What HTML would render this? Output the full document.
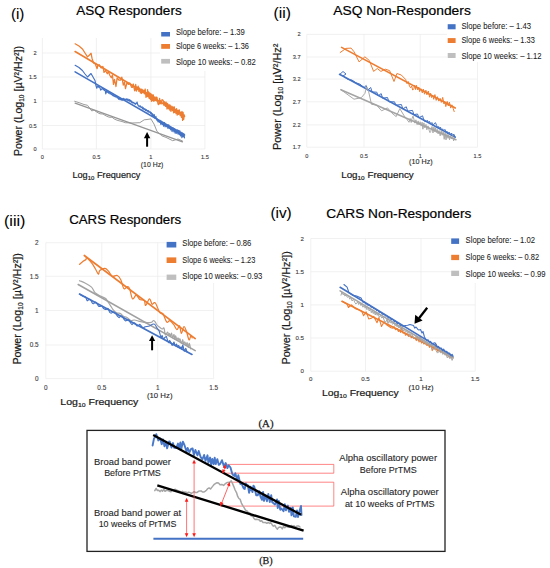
<!DOCTYPE html><html><head><meta charset="utf-8"><style>html,body{margin:0;padding:0;background:#fff;width:550px;height:568px;overflow:hidden}svg{display:block}</style></head><body>
<svg width="550" height="568" viewBox="0 0 550 568">
<rect width="550" height="568" fill="#fff"/>
<line x1="42.4" y1="53.0" x2="160.0" y2="53.0" stroke="#ebebeb" stroke-width="0.70" />
<line x1="42.4" y1="77.0" x2="204.9" y2="77.0" stroke="#ebebeb" stroke-width="0.70" />
<line x1="42.4" y1="101.3" x2="204.9" y2="101.3" stroke="#ebebeb" stroke-width="0.70" />
<line x1="42.4" y1="125.5" x2="204.9" y2="125.5" stroke="#ebebeb" stroke-width="0.70" />
<line x1="42.4" y1="149.0" x2="204.9" y2="149.0" stroke="#ebebeb" stroke-width="0.70" />
<line x1="42.4" y1="38.0" x2="42.4" y2="149.0" stroke="#ebebeb" stroke-width="0.70" />
<line x1="96.4" y1="38.0" x2="96.4" y2="149.0" stroke="#ebebeb" stroke-width="0.70" />
<line x1="150.9" y1="38.0" x2="150.9" y2="149.0" stroke="#ebebeb" stroke-width="0.70" />
<line x1="204.9" y1="71.0" x2="204.9" y2="149.0" stroke="#ebebeb" stroke-width="0.70" />
<text x="36.7" y="55.0" font-family='"Liberation Sans", sans-serif' font-size="5.60" fill="#404040" text-anchor="end" font-weight="normal"  stroke="#404040" stroke-width="0.12">2</text>
<text x="36.7" y="79.0" font-family='"Liberation Sans", sans-serif' font-size="5.60" fill="#404040" text-anchor="end" font-weight="normal"  stroke="#404040" stroke-width="0.12">1.5</text>
<text x="36.7" y="103.3" font-family='"Liberation Sans", sans-serif' font-size="5.60" fill="#404040" text-anchor="end" font-weight="normal"  stroke="#404040" stroke-width="0.12">1</text>
<text x="36.7" y="127.5" font-family='"Liberation Sans", sans-serif' font-size="5.60" fill="#404040" text-anchor="end" font-weight="normal"  stroke="#404040" stroke-width="0.12">0.5</text>
<text x="36.7" y="151.0" font-family='"Liberation Sans", sans-serif' font-size="5.60" fill="#404040" text-anchor="end" font-weight="normal"  stroke="#404040" stroke-width="0.12">0</text>
<text x="42.4" y="159.3" font-family='"Liberation Sans", sans-serif' font-size="5.60" fill="#404040" text-anchor="middle" font-weight="normal"  stroke="#404040" stroke-width="0.12">0</text>
<text x="96.4" y="159.3" font-family='"Liberation Sans", sans-serif' font-size="5.60" fill="#404040" text-anchor="middle" font-weight="normal"  stroke="#404040" stroke-width="0.12">0.5</text>
<text x="150.9" y="159.3" font-family='"Liberation Sans", sans-serif' font-size="5.60" fill="#404040" text-anchor="middle" font-weight="normal"  stroke="#404040" stroke-width="0.12">1</text>
<text x="204.9" y="159.3" font-family='"Liberation Sans", sans-serif' font-size="5.60" fill="#404040" text-anchor="middle" font-weight="normal"  stroke="#404040" stroke-width="0.12">1.5</text>
<text x="152.1" y="167.3" font-family='"Liberation Sans", sans-serif' font-size="6.60" fill="#262626" text-anchor="middle" font-weight="normal" textLength="22.6" lengthAdjust="spacingAndGlyphs"  stroke="#262626" stroke-width="0.10">(10 Hz)</text>
<text x="72.4" y="177.7" font-family='"Liberation Sans", sans-serif' font-size="9.2" fill="#1a1a1a" stroke="#1a1a1a" stroke-width="0.2" textLength="68.0" lengthAdjust="spacingAndGlyphs">Log<tspan font-size="6" dy="2">10</tspan><tspan dy="-2"> Frequency</tspan></text>
<text transform="translate(21.8 156.0) rotate(-90)" x="0" y="0" font-family='"Liberation Sans", sans-serif' font-size="10.60" fill="#1a1a1a" stroke="#1a1a1a" stroke-width="0.2" textLength="110.0" lengthAdjust="spacingAndGlyphs">Power (Log<tspan font-size="6.57" dy="2.2">10</tspan><tspan dy="-2.2"> [µV²/Hz²])</tspan></text>
<text x="10.9" y="18.5" font-family='"Liberation Sans", sans-serif' font-size="15.00" fill="#000" text-anchor="start" font-weight="normal" textLength="13.5" lengthAdjust="spacingAndGlyphs"  stroke="#000" stroke-width="0.08">(i)</text>
<text x="76.2" y="15.3" font-family='"Liberation Sans", sans-serif' font-size="13.30" fill="#000" text-anchor="start" font-weight="normal" textLength="105.5" lengthAdjust="spacingAndGlyphs"  stroke="#000" stroke-width="0.20">ASQ Responders</text>
<rect x="161.2" y="32.0" width="8.8" height="4.5" fill="#4472c4"/>
<text x="175.9" y="34.9" font-family='"Liberation Sans", sans-serif' font-size="8.20" fill="#1a1a1a" text-anchor="start" font-weight="normal" textLength="69.0" lengthAdjust="spacingAndGlyphs"  stroke="#1a1a1a" stroke-width="0.05">Slope before: – 1.39</text>
<rect x="161.2" y="44.0" width="8.8" height="4.8" fill="#ed7d31"/>
<text x="175.9" y="49.1" font-family='"Liberation Sans", sans-serif' font-size="8.20" fill="#1a1a1a" text-anchor="start" font-weight="normal" textLength="73.0" lengthAdjust="spacingAndGlyphs"  stroke="#1a1a1a" stroke-width="0.05">Slope 6 weeks: – 1.36</text>
<rect x="161.2" y="58.9" width="8.8" height="4.7" fill="#bfbfbf"/>
<text x="175.9" y="64.6" font-family='"Liberation Sans", sans-serif' font-size="8.20" fill="#1a1a1a" text-anchor="start" font-weight="normal" textLength="80.0" lengthAdjust="spacingAndGlyphs"  stroke="#1a1a1a" stroke-width="0.05">Slope 10 weeks: – 0.82</text>
<path d="M75.1 43.8 L79.0 46.0 L82.4 48.9 L85.0 53.0 L87.5 56.9 L89.5 55.0 L91.1 53.3 L92.0 58.2 L93.5 62.9 L95.3 64.0 L97.1 68.7 L97.8 65.5 L99.3 64.7 L101.1 68.0 L102.9 66.5 L104.0 72.4 L105.5 70.5 L107.3 73.8 L108.4 71.6 L109.8 75.3 L111.3 77.8 L112.4 74.9 L113.5 84.4 L114.5 79.3 L116.0 86.5 L117.1 77.8 L118.9 80.0 L120.7 80.0 L121.8 77.1 L123.3 85.1 L124.4 82.2 L125.5 88.7 L126.9 82.9 L128.4 84.4 L129.8 82.9 L131.6 87.3 L132.5 87.4 L133.3 84.0 L134.0 87.8 L134.7 90.8 L135.2 89.8 L135.7 84.4 L136.4 91.1 L137.0 87.0 L137.6 89.7 L138.2 86.1 L138.9 91.4 L139.5 88.0 L140.4 93.0 L141.0 88.9 L141.5 93.5 L142.2 89.4 L143.0 92.8 L143.8 90.1 L144.4 93.8 L145.2 89.0 L146.0 97.4 L146.5 92.6 L147.0 96.4 L147.6 89.7 L148.1 96.8 L148.6 91.9 L149.2 98.4 L149.8 92.8 L150.3 99.3 L150.9 93.6 L151.4 101.3 L152.0 94.6 L152.6 100.6 L153.3 94.8 L153.8 101.3 L154.4 96.9 L155.2 100.5 L156.0 96.9 L156.5 101.0 L157.0 97.3 L157.8 103.0 L158.3 104.6 L159.0 104.3 L159.6 98.3 L160.0 103.6 L160.5 100.5 L161.2 104.0 L162.0 99.6 L162.7 100.0 L163.2 100.4 L164.0 105.4 L164.7 101.7 L165.5 106.4 L166.2 102.2 L167.0 109.0 L167.6 103.4 L168.4 108.9 L169.1 104.6 L169.8 110.2 L170.2 105.1 L171.0 111.3 L171.8 106.1 L172.6 110.7 L173.0 106.8 L173.6 112.8 L174.3 106.8 L174.7 112.5 L175.3 109.1 L176.0 113.6 L176.6 108.7 L177.2 115.2 L178.0 110.2 L178.6 114.4 L179.3 109.9 L180.2 115.7 L180.8 112.1 L181.4 117.3 L182.0 111.4 L182.6 120.4 L183.1 112.4 L183.7 119.4 L184.3 114.8" fill="none" stroke="#ed7d31" stroke-width="1.25" stroke-linejoin="round" stroke-linecap="round" />
<path d="M75.1 51.5 L184.5 116.3" fill="none" stroke="#ed7d31" stroke-width="1.60" stroke-linejoin="round" stroke-linecap="round" />
<path d="M75.1 65.3 L79.0 67.5 L82.4 70.5 L85.0 74.0 L87.5 77.0 L89.5 75.0 L91.0 73.5 L93.0 77.0 L95.0 80.5 L96.0 85.8 L96.8 88.2 L97.4 86.8 L98.1 85.7 L98.7 87.3 L99.5 86.8 L100.1 88.3 L100.7 90.1 L101.6 89.1 L102.5 87.9 L103.2 89.7 L103.9 89.3 L104.4 90.5 L105.1 89.8 L105.8 93.9 L106.7 90.3 L107.3 92.3 L108.1 91.7 L108.7 93.2 L109.4 92.5 L110.1 94.0 L110.8 93.1 L111.3 94.7 L112.1 94.1 L112.7 95.6 L113.4 94.7 L114.1 96.6 L115.0 95.6 L115.6 96.9 L116.5 96.6 L117.3 98.0 L117.8 97.4 L118.7 99.3 L119.2 98.0 L120.1 99.8 L120.8 98.4 L121.4 100.1 L121.9 98.6 L122.5 100.2 L123.3 98.4 L123.9 99.8 L124.7 98.9 L125.4 99.9 L126.3 98.8 L127.1 100.5 L127.8 98.9 L128.6 100.7 L129.3 99.5 L129.8 101.4 L130.6 100.2 L131.3 102.4 L131.8 101.2 L132.7 103.1 L133.5 102.3 L134.3 103.8 L134.9 103.0 L135.5 104.3 L136.3 103.5 L137.1 102.1 L137.8 104.8 L138.4 106.1 L139.3 105.8 L139.9 107.0 L140.5 105.9 L141.3 107.7 L142.1 106.8 L142.7 109.0 L143.3 107.7 L144.0 109.6 L144.9 108.6 L145.5 110.5 L146.2 109.5 L146.8 110.9 L147.4 110.4 L148.0 112.1 L148.6 110.6 L149.2 112.3 L150.1 111.6 L150.7 113.5 L151.4 112.7 L152.1 115.8 L152.6 113.7 L153.4 116.3 L154.2 114.6 L155.0 118.5 L155.9 116.4 L156.7 120.1 L157.2 118.8 L158.0 121.9 L158.6 119.8 L159.3 122.4 L160.0 120.4 L160.8 124.4 L161.6 121.2 L162.2 124.7 L163.0 122.3 L163.7 126.3 L164.6 122.5 L165.2 126.8 L166.1 124.3 L166.6 126.8 L167.1 124.6 L167.9 128.4 L168.8 124.7 L169.3 128.6 L170.0 126.3 L170.7 130.0 L171.2 127.2 L172.1 131.7 L173.0 127.7 L173.9 132.0 L174.4 128.7 L175.2 133.3 L175.8 129.2 L176.7 133.5 L177.5 129.8 L178.1 134.2 L178.6 130.4 L179.4 134.7 L179.9 130.7 L180.5 136.0 L181.2 132.2 L181.9 137.7 L182.6 132.8 L183.2 136.9 L183.9 133.7 L184.5 137.9" fill="none" stroke="#4472c4" stroke-width="1.15" stroke-linejoin="round" stroke-linecap="round" />
<path d="M75.1 71.9 L184.5 135.0" fill="none" stroke="#4472c4" stroke-width="1.60" stroke-linejoin="round" stroke-linecap="round" />
<path d="M74.7 101.3 L80.0 103.0 L84.0 104.5 L87.5 105.3 L91.8 111.0 L94.0 110.0 L96.0 111.5 L98.0 112.8 L100.0 113.8 L103.0 114.0 L105.0 115.3 L108.0 116.8 L110.0 117.3 L112.0 117.2 L114.0 118.8 L116.0 119.8 L118.0 120.5 L122.0 121.5 L125.3 122.7 L132.0 123.0 L139.8 122.7 L144.2 119.8 L147.0 119.5 L150.9 118.9 L154.0 124.0 L157.0 131.4 L161.8 135.8 L166.0 137.4 L172.7 140.7 L178.0 139.0 L182.5 141.0" fill="none" stroke="#9c9c9c" stroke-width="1.00" stroke-linejoin="round" stroke-linecap="round" />
<path d="M75.1 103.1 L182.5 141.8" fill="none" stroke="#959595" stroke-width="1.25" stroke-linejoin="round" stroke-linecap="round" />
<line x1="147.1" y1="137.0" x2="147.1" y2="146.7" stroke="#000" stroke-width="2.00" />
<polygon points="143.9,138.2 147.1,132 150.3,138.2" fill="#000"/>
<line x1="306.8" y1="34.4" x2="447.0" y2="34.4" stroke="#ebebeb" stroke-width="0.70" />
<line x1="306.8" y1="57.0" x2="447.0" y2="57.0" stroke="#ebebeb" stroke-width="0.70" />
<line x1="306.8" y1="79.1" x2="477.5" y2="79.1" stroke="#ebebeb" stroke-width="0.70" />
<line x1="306.8" y1="101.8" x2="477.5" y2="101.8" stroke="#ebebeb" stroke-width="0.70" />
<line x1="306.8" y1="124.9" x2="477.5" y2="124.9" stroke="#ebebeb" stroke-width="0.70" />
<line x1="306.8" y1="147.2" x2="477.5" y2="147.2" stroke="#ebebeb" stroke-width="0.70" />
<line x1="306.8" y1="34.4" x2="306.8" y2="147.2" stroke="#ebebeb" stroke-width="0.70" />
<line x1="364.0" y1="34.4" x2="364.0" y2="147.2" stroke="#ebebeb" stroke-width="0.70" />
<line x1="420.2" y1="34.4" x2="420.2" y2="147.2" stroke="#ebebeb" stroke-width="0.70" />
<line x1="477.5" y1="62.0" x2="477.5" y2="147.2" stroke="#ebebeb" stroke-width="0.70" />
<text x="300.5" y="36.4" font-family='"Liberation Sans", sans-serif' font-size="5.60" fill="#404040" text-anchor="end" font-weight="normal"  stroke="#404040" stroke-width="0.12">2</text>
<text x="300.5" y="59.0" font-family='"Liberation Sans", sans-serif' font-size="5.60" fill="#404040" text-anchor="end" font-weight="normal"  stroke="#404040" stroke-width="0.12">3.7</text>
<text x="300.5" y="81.1" font-family='"Liberation Sans", sans-serif' font-size="5.60" fill="#404040" text-anchor="end" font-weight="normal"  stroke="#404040" stroke-width="0.12">3.2</text>
<text x="300.5" y="103.8" font-family='"Liberation Sans", sans-serif' font-size="5.60" fill="#404040" text-anchor="end" font-weight="normal"  stroke="#404040" stroke-width="0.12">2.7</text>
<text x="300.5" y="126.9" font-family='"Liberation Sans", sans-serif' font-size="5.60" fill="#404040" text-anchor="end" font-weight="normal"  stroke="#404040" stroke-width="0.12">2.2</text>
<text x="300.5" y="149.2" font-family='"Liberation Sans", sans-serif' font-size="5.60" fill="#404040" text-anchor="end" font-weight="normal"  stroke="#404040" stroke-width="0.12">1.7</text>
<text x="306.8" y="157.6" font-family='"Liberation Sans", sans-serif' font-size="5.60" fill="#404040" text-anchor="middle" font-weight="normal"  stroke="#404040" stroke-width="0.12">0</text>
<text x="364.0" y="157.6" font-family='"Liberation Sans", sans-serif' font-size="5.60" fill="#404040" text-anchor="middle" font-weight="normal"  stroke="#404040" stroke-width="0.12">0.5</text>
<text x="420.2" y="157.6" font-family='"Liberation Sans", sans-serif' font-size="5.60" fill="#404040" text-anchor="middle" font-weight="normal"  stroke="#404040" stroke-width="0.12">1</text>
<text x="477.5" y="157.6" font-family='"Liberation Sans", sans-serif' font-size="5.60" fill="#404040" text-anchor="middle" font-weight="normal"  stroke="#404040" stroke-width="0.12">1.5</text>
<text x="420.9" y="163.6" font-family='"Liberation Sans", sans-serif' font-size="6.80" fill="#262626" text-anchor="middle" font-weight="normal" textLength="23.6" lengthAdjust="spacingAndGlyphs"  stroke="#262626" stroke-width="0.10">(10 Hz)</text>
<text x="341.2" y="177.5" font-family='"Liberation Sans", sans-serif' font-size="9.2" fill="#1a1a1a" stroke="#1a1a1a" stroke-width="0.2" textLength="72.5" lengthAdjust="spacingAndGlyphs">Log<tspan font-size="6" dy="2">10</tspan><tspan dy="-2"> Frequency</tspan></text>
<text transform="translate(280.9 150.1) rotate(-90)" x="0" y="0" font-family='"Liberation Sans", sans-serif' font-size="10.60" fill="#1a1a1a" stroke="#1a1a1a" stroke-width="0.2" textLength="106.5" lengthAdjust="spacingAndGlyphs">Power (Log<tspan font-size="6.57" dy="2.2">10</tspan><tspan dy="-2.2"> [µV²/Hz²</tspan></text>
<text x="273.6" y="18.3" font-family='"Liberation Sans", sans-serif' font-size="15.00" fill="#000" text-anchor="start" font-weight="normal" textLength="17.3" lengthAdjust="spacingAndGlyphs"  stroke="#000" stroke-width="0.08">(ii)</text>
<text x="333.3" y="14.8" font-family='"Liberation Sans", sans-serif' font-size="13.30" fill="#000" text-anchor="start" font-weight="normal" textLength="137.5" lengthAdjust="spacingAndGlyphs"  stroke="#000" stroke-width="0.20">ASQ Non-Responders</text>
<rect x="447.7" y="24.2" width="7.9" height="5.1" fill="#4472c4"/>
<text x="461.4" y="28.9" font-family='"Liberation Sans", sans-serif' font-size="8.20" fill="#1a1a1a" text-anchor="start" font-weight="normal" textLength="69.6" lengthAdjust="spacingAndGlyphs"  stroke="#1a1a1a" stroke-width="0.05">Slope before: – 1.43</text>
<rect x="447.7" y="38.1" width="7.9" height="4.9" fill="#ed7d31"/>
<text x="461.4" y="43.0" font-family='"Liberation Sans", sans-serif' font-size="8.20" fill="#1a1a1a" text-anchor="start" font-weight="normal" textLength="73.5" lengthAdjust="spacingAndGlyphs"  stroke="#1a1a1a" stroke-width="0.05">Slope 6 weeks: – 1.33</text>
<rect x="447.7" y="53.0" width="7.9" height="5.0" fill="#bfbfbf"/>
<text x="461.4" y="58.6" font-family='"Liberation Sans", sans-serif' font-size="8.20" fill="#1a1a1a" text-anchor="start" font-weight="normal" textLength="80.2" lengthAdjust="spacingAndGlyphs"  stroke="#1a1a1a" stroke-width="0.05">Slope 10 weeks: – 1.12</text>
<path d="M340.2 52.5 L346.0 48.4 L351.1 48.1 L354.0 51.7 L359.1 61.9 L364.9 56.8 L369.3 60.5 L373.6 71.4 L377.3 68.5 L380.9 71.4 L385.3 69.2 L389.6 70.6 L394.0 81.5 L396.9 73.5 L401.3 75.0 L405.6 79.4 L407.0 83.7 L408.2 81.5 L409.5 86.2 L410.6 87.8 L411.7 86.1 L412.7 90.1 L413.9 88.6 L414.7 85.2 L415.6 89.6 L416.4 85.3 L417.8 90.0 L418.8 87.1 L419.6 91.6 L420.9 88.7 L422.3 92.9 L423.4 89.2 L424.5 94.2 L425.9 90.2 L426.9 94.8 L428.3 91.0 L429.6 97.2 L430.6 93.3 L431.6 97.6 L432.7 95.1 L433.7 99.3 L434.9 94.6 L436.2 100.4 L437.4 96.7 L438.8 101.1 L440.2 98.4 L441.3 102.4 L442.7 97.4 L444.0 104.0 L444.8 101.3 L445.8 106.6 L447.2 101.4 L448.3 105.9 L449.4 102.1 L450.7 108.1 L451.9 104.8 L453.2 108.6 L454.2 111.6" fill="none" stroke="#ed7d31" stroke-width="1.00" stroke-linejoin="round" stroke-linecap="round" />
<path d="M341.6 47.4 L455.3 108.0" fill="none" stroke="#ed7d31" stroke-width="1.60" stroke-linejoin="round" stroke-linecap="round" />
<path d="M339.5 74.6 L343.0 71.5 L346.0 74.0 L343.0 76.0 L348.0 79.4 L352.0 80.1 L356.0 82.8 L360.0 84.2 L364.0 87.6 L366.2 85.5 L367.6 90.2 L370.7 87.5 L372.1 91.9 L376.8 92.2 L378.2 95.8 L381.2 93.6 L382.6 98.2 L387.5 97.5 L388.9 101.8 L394.5 101.8 L395.9 105.2 L401.4 104.5 L402.8 108.8 L406.3 106.8 L407.7 111.1 L412.5 110.4 L413.9 114.6 L417.5 114.0 L418.9 117.7 L422.6 115.8 L424.0 120.9 L426.0 121.6 L427.3 120.3 L428.5 122.5 L429.5 121.4 L430.6 123.8 L431.9 122.5 L433.1 125.9 L434.1 123.7 L435.5 122.7 L436.6 125.4 L437.7 127.5 L438.8 126.6 L439.6 128.7 L440.5 127.2 L441.5 130.1 L442.6 128.8 L443.6 130.7 L444.9 129.4 L446.0 132.2 L447.0 131.2 L447.8 133.8 L449.1 132.1 L450.5 134.8 L451.6 133.0 L452.7 136.0 L453.8 134.1 L455.3 137.5" fill="none" stroke="#4472c4" stroke-width="1.00" stroke-linejoin="round" stroke-linecap="round" />
<path d="M339.5 74.3 L455.3 137.2" fill="none" stroke="#4472c4" stroke-width="1.60" stroke-linejoin="round" stroke-linecap="round" />
<path d="M340.9 89.7 L354.0 99.2 L361.3 97.7 L364.9 93.4 L366.7 86.8 L368.5 91.2 L371.5 104.3 L376.5 105.0 L381.6 110.8 L387.5 107.9 L391.8 113.0 L396.2 116.6 L399.8 108.6 L404.2 115.9 L407.0 119.5 L409.0 122.3 L410.2 118.5 L411.2 122.5 L412.0 118.5 L413.0 116.1 L413.9 119.2 L414.8 123.1 L415.9 119.8 L417.2 124.7 L418.1 120.9 L419.0 124.9 L420.1 121.8 L421.2 126.1 L422.1 122.2 L422.9 129.2 L423.9 122.9 L424.8 127.9 L426.0 124.4 L426.8 129.8 L428.0 125.9 L429.2 130.4 L430.0 132.6 L430.7 131.5 L432.0 126.5 L433.0 132.9 L433.9 127.0 L434.8 131.8 L435.6 127.8 L436.4 132.5 L437.2 129.3 L438.1 133.9 L439.0 130.5 L440.2 135.8 L441.2 130.7 L442.2 135.3 L443.2 131.4 L444.2 139.3 L445.1 132.7 L446.0 139.9 L447.0 134.2 L448.0 138.3 L448.7 134.6 L449.5 139.8 L450.6 135.9 L451.5 139.0 L452.5 135.6 L453.6 140.9 L454.8 137.9" fill="none" stroke="#a8a8a8" stroke-width="1.00" stroke-linejoin="round" stroke-linecap="round" />
<path d="M340.9 89.7 L456.0 139.7" fill="none" stroke="#a4a4a4" stroke-width="1.50" stroke-linejoin="round" stroke-linecap="round" />
<line x1="45.8" y1="242.7" x2="166.0" y2="242.7" stroke="#ebebeb" stroke-width="0.70" />
<line x1="45.8" y1="276.3" x2="166.0" y2="276.3" stroke="#ebebeb" stroke-width="0.70" />
<line x1="45.8" y1="310.5" x2="213.6" y2="310.5" stroke="#ebebeb" stroke-width="0.70" />
<line x1="45.8" y1="345.0" x2="213.6" y2="345.0" stroke="#ebebeb" stroke-width="0.70" />
<line x1="45.8" y1="378.6" x2="213.6" y2="378.6" stroke="#ebebeb" stroke-width="0.70" />
<line x1="45.8" y1="242.7" x2="45.8" y2="378.6" stroke="#ebebeb" stroke-width="0.70" />
<line x1="101.8" y1="242.7" x2="101.8" y2="378.6" stroke="#ebebeb" stroke-width="0.70" />
<line x1="157.7" y1="242.7" x2="157.7" y2="378.6" stroke="#ebebeb" stroke-width="0.70" />
<line x1="213.6" y1="283.0" x2="213.6" y2="378.6" stroke="#ebebeb" stroke-width="0.70" />
<text x="38.6" y="245.0" font-family='"Liberation Sans", sans-serif' font-size="6.40" fill="#404040" text-anchor="end" font-weight="normal"  stroke="#404040" stroke-width="0.12">2</text>
<text x="38.6" y="278.6" font-family='"Liberation Sans", sans-serif' font-size="6.40" fill="#404040" text-anchor="end" font-weight="normal"  stroke="#404040" stroke-width="0.12">1.5</text>
<text x="38.6" y="312.8" font-family='"Liberation Sans", sans-serif' font-size="6.40" fill="#404040" text-anchor="end" font-weight="normal"  stroke="#404040" stroke-width="0.12">1</text>
<text x="38.6" y="347.3" font-family='"Liberation Sans", sans-serif' font-size="6.40" fill="#404040" text-anchor="end" font-weight="normal"  stroke="#404040" stroke-width="0.12">0.5</text>
<text x="38.6" y="380.9" font-family='"Liberation Sans", sans-serif' font-size="6.40" fill="#404040" text-anchor="end" font-weight="normal"  stroke="#404040" stroke-width="0.12">0</text>
<text x="45.8" y="390.0" font-family='"Liberation Sans", sans-serif' font-size="6.40" fill="#404040" text-anchor="middle" font-weight="normal"  stroke="#404040" stroke-width="0.12">0</text>
<text x="101.8" y="390.0" font-family='"Liberation Sans", sans-serif' font-size="6.40" fill="#404040" text-anchor="middle" font-weight="normal"  stroke="#404040" stroke-width="0.12">0.5</text>
<text x="157.7" y="390.0" font-family='"Liberation Sans", sans-serif' font-size="6.40" fill="#404040" text-anchor="middle" font-weight="normal"  stroke="#404040" stroke-width="0.12">1</text>
<text x="213.6" y="390.0" font-family='"Liberation Sans", sans-serif' font-size="6.40" fill="#404040" text-anchor="middle" font-weight="normal"  stroke="#404040" stroke-width="0.12">1.5</text>
<text x="159.7" y="398.0" font-family='"Liberation Sans", sans-serif' font-size="7.30" fill="#262626" text-anchor="middle" font-weight="normal" textLength="25.6" lengthAdjust="spacingAndGlyphs"  stroke="#262626" stroke-width="0.10">(10 Hz)</text>
<text x="60.3" y="404.5" font-family='"Liberation Sans", sans-serif' font-size="9.2" fill="#1a1a1a" stroke="#1a1a1a" stroke-width="0.2" textLength="78.0" lengthAdjust="spacingAndGlyphs">Log<tspan font-size="6" dy="2">10</tspan><tspan dy="-2"> Frequency</tspan></text>
<text transform="translate(21.0 364.6) rotate(-90)" x="0" y="0" font-family='"Liberation Sans", sans-serif' font-size="10.60" fill="#1a1a1a" stroke="#1a1a1a" stroke-width="0.2" textLength="111.5" lengthAdjust="spacingAndGlyphs">Power (Log<tspan font-size="6.57" dy="2.2">10</tspan><tspan dy="-2.2"> [µV²/Hz²])</tspan></text>
<text x="4.0" y="226.3" font-family='"Liberation Sans", sans-serif' font-size="15.00" fill="#000" text-anchor="start" font-weight="normal" textLength="21.5" lengthAdjust="spacingAndGlyphs"  stroke="#000" stroke-width="0.08">(iii)</text>
<text x="69.2" y="224.2" font-family='"Liberation Sans", sans-serif' font-size="13.30" fill="#000" text-anchor="start" font-weight="normal" textLength="112.0" lengthAdjust="spacingAndGlyphs"  stroke="#000" stroke-width="0.20">CARS Responders</text>
<rect x="166.6" y="241.9" width="9.7" height="5.6" fill="#4472c4"/>
<text x="182.3" y="246.4" font-family='"Liberation Sans", sans-serif' font-size="8.20" fill="#1a1a1a" text-anchor="start" font-weight="normal" textLength="69.0" lengthAdjust="spacingAndGlyphs"  stroke="#1a1a1a" stroke-width="0.05">Slope before: – 0.86</text>
<rect x="166.6" y="257.4" width="9.7" height="5.6" fill="#ed7d31"/>
<text x="182.3" y="263.0" font-family='"Liberation Sans", sans-serif' font-size="8.20" fill="#1a1a1a" text-anchor="start" font-weight="normal" textLength="73.0" lengthAdjust="spacingAndGlyphs"  stroke="#1a1a1a" stroke-width="0.05">Slope 6 weeks: – 1.23</text>
<rect x="166.6" y="274.6" width="9.7" height="5.3" fill="#bfbfbf"/>
<text x="182.3" y="279.0" font-family='"Liberation Sans", sans-serif' font-size="8.20" fill="#1a1a1a" text-anchor="start" font-weight="normal" textLength="80.0" lengthAdjust="spacingAndGlyphs"  stroke="#1a1a1a" stroke-width="0.05">Slope 10 weeks: – 0.93</text>
<path d="M79.5 264.3 C80.1 263.8 82.0 262.1 83.1 261.3 C84.2 260.5 85.4 260.1 86.0 259.5 C86.6 258.9 85.7 256.8 86.7 257.4 C87.7 258.0 90.3 261.3 91.8 263.2 C93.3 265.1 94.4 267.2 95.5 269.0 C96.6 270.8 97.7 273.9 98.4 274.1 C99.1 274.4 98.7 271.5 99.8 270.5 C100.9 269.5 103.5 268.2 104.9 268.3 C106.4 268.4 107.3 269.9 108.5 271.2 C109.7 272.5 110.7 275.6 112.2 276.3 C113.7 277.0 115.8 274.9 117.3 275.5 C118.8 276.1 119.8 277.7 120.9 279.9 C122.0 282.1 122.7 287.5 123.8 288.6 C124.9 289.7 126.5 286.5 127.5 286.5 C128.5 286.5 128.8 286.6 129.6 288.6 C130.4 290.7 131.4 297.7 132.5 298.8 C133.6 299.9 135.0 295.1 136.2 295.2 C137.4 295.3 138.5 298.6 139.8 299.5 C141.1 300.4 143.2 299.3 144.2 300.3 C145.2 301.3 144.8 305.8 145.7 305.5 C146.6 305.2 148.4 299.0 149.5 298.8 C150.6 298.6 151.1 303.5 152.1 304.2 C153.1 304.9 154.0 301.5 155.3 302.9 C156.6 304.3 158.4 310.7 159.7 312.5 C161.0 314.3 161.7 312.1 162.9 313.7 C164.1 315.3 165.5 320.8 166.7 322.0 C167.9 323.2 168.7 320.3 169.9 320.7 C171.1 321.1 172.5 323.0 173.7 324.5 C174.9 326.0 175.9 329.4 176.9 329.6 C177.9 329.8 178.8 325.2 179.5 325.8 C180.2 326.4 180.7 333.4 181.4 333.5 C182.1 333.6 183.1 326.8 183.9 326.5 C184.8 326.2 185.7 329.3 186.5 331.5 C187.3 333.7 188.3 339.1 189.0 339.8 C189.7 340.6 190.4 336.3 190.9 336.0 C191.4 335.7 192.0 337.6 192.2 337.9" fill="none" stroke="#ed7d31" stroke-width="1.20" stroke-linejoin="round" stroke-linecap="round" />
<path d="M84.3 255.5 L195.2 338.6" fill="none" stroke="#ed7d31" stroke-width="1.70" stroke-linejoin="round" stroke-linecap="round" />
<path d="M79.5 280.7 C80.4 281.1 83.0 281.9 85.0 283.0 C87.0 284.1 89.8 285.5 91.5 287.1 C93.2 288.7 93.5 291.2 95.0 292.7 C96.5 294.2 98.7 295.0 100.5 296.0 C102.3 297.0 104.8 298.0 105.9 298.7 C107.0 299.4 106.3 299.3 107.0 300.4 C107.7 301.5 109.3 303.8 110.3 305.3 C111.3 306.8 111.9 308.3 113.0 309.6 C114.1 310.9 115.6 312.3 116.8 312.9 C118.0 313.5 119.0 312.8 120.1 313.4 C121.2 313.9 122.3 315.5 123.4 316.2 C124.5 316.9 125.3 316.6 126.6 317.3 C127.9 318.0 129.7 320.1 131.0 320.5 C132.3 320.9 133.0 319.9 134.3 320.0 C135.6 320.1 137.2 320.7 138.6 321.1 C140.0 321.5 141.6 321.9 143.0 322.2 C144.4 322.5 145.9 322.7 147.3 322.7 C148.8 322.7 150.7 322.6 151.7 322.2 C152.7 321.8 152.9 320.6 153.5 320.5 C154.1 320.4 154.4 320.9 155.0 321.6 C155.6 322.4 156.2 324.0 157.0 325.0 C157.8 326.0 159.1 326.8 160.0 327.5 C160.9 328.2 161.6 328.9 162.3 329.0 C163.0 329.1 163.5 327.2 164.0 328.1 C164.5 329.1 164.8 333.7 165.2 334.6 C165.6 335.6 166.1 334.1 166.5 333.7 C166.9 333.2 167.3 331.9 167.7 332.2 C168.1 332.5 168.4 335.1 168.8 335.3 C169.1 335.6 169.3 333.3 169.6 333.5 C169.9 333.6 170.3 336.1 170.6 336.1 C171.0 336.0 171.3 332.9 171.6 333.2 C172.0 333.4 172.2 337.5 172.6 337.8 C172.9 338.0 173.6 334.4 174.0 334.6 C174.3 334.9 174.6 339.3 174.9 339.5 C175.1 339.6 175.3 335.7 175.6 335.8 C176.0 335.8 176.4 339.2 176.8 339.6 C177.3 340.0 177.7 337.8 178.1 338.0 C178.5 338.2 178.7 340.4 179.0 340.6 C179.3 340.7 179.6 338.3 180.0 338.8 C180.4 339.2 180.9 343.1 181.3 343.3 C181.8 343.5 182.4 339.6 182.8 339.7 C183.1 339.8 183.3 343.7 183.6 344.1 C184.0 344.5 184.4 341.7 184.9 342.0 C185.3 342.2 185.9 345.4 186.2 345.5 C186.6 345.6 186.7 342.4 187.1 342.7 C187.4 343.0 187.9 347.2 188.3 347.3 C188.6 347.4 188.9 343.1 189.3 343.4 C189.7 343.6 190.4 347.9 190.6 348.8" fill="none" stroke="#a6a6a6" stroke-width="1.20" stroke-linejoin="round" stroke-linecap="round" />
<path d="M78.2 284.5 L195.2 350.6" fill="none" stroke="#a0a0a0" stroke-width="1.60" stroke-linejoin="round" stroke-linecap="round" />
<path d="M79.5 294.1 C80.2 294.5 83.0 296.3 84.0 296.8 C85.0 297.3 85.1 296.3 85.6 297.0 C86.1 297.7 86.7 300.3 87.2 300.7 C87.7 301.1 88.3 299.7 88.8 299.5 C89.3 299.3 89.9 298.9 90.4 299.4 C90.9 299.9 91.5 301.9 92.0 302.6 C92.5 303.4 93.1 303.8 93.6 303.7 C94.1 303.6 94.7 302.2 95.2 302.1 C95.7 302.0 96.3 302.6 96.8 303.2 C97.3 303.9 97.9 305.4 98.4 306.0 C98.9 306.5 99.5 306.5 100.0 306.5 C100.5 306.4 101.1 305.3 101.6 305.6 C102.1 305.9 102.7 307.5 103.2 308.1 C103.7 308.8 104.3 309.1 104.8 309.3 C105.3 309.5 105.9 309.5 106.4 309.3 C106.9 309.2 107.5 308.0 108.0 308.4 C108.5 308.9 109.1 311.4 109.6 312.2 C110.1 313.0 110.7 313.1 111.2 313.1 C111.7 313.1 112.3 312.4 112.8 312.2 C113.3 312.0 113.9 311.8 114.4 312.1 C114.9 312.4 115.5 313.3 116.0 314.0 C116.5 314.7 117.1 315.7 117.6 316.3 C118.1 316.9 118.7 317.7 119.2 317.6 C119.7 317.5 120.3 315.9 120.8 315.8 C121.3 315.6 121.9 316.0 122.4 316.6 C122.9 317.2 123.5 318.7 124.0 319.4 C124.5 320.1 125.1 320.7 125.6 320.9 C126.1 321.0 126.7 320.3 127.2 320.2 C127.7 320.0 128.3 319.4 128.8 319.8 C129.3 320.2 129.9 321.8 130.4 322.6 C130.9 323.4 131.5 324.6 132.0 324.6 C132.5 324.7 133.1 323.1 133.6 322.9 C134.1 322.7 134.7 322.8 135.2 323.3 C135.7 323.8 136.3 325.6 136.8 325.9 C137.3 326.3 137.9 325.7 138.4 325.4 C138.9 325.2 139.5 324.2 140.0 324.4 C140.5 324.6 141.1 325.9 141.6 326.5 C142.1 327.1 142.7 327.9 143.2 328.0 C143.7 328.1 143.7 327.3 144.8 326.9 C145.8 326.6 148.3 326.4 149.5 326.0 C150.7 325.6 151.2 324.8 152.0 324.5 C152.8 324.2 153.4 323.9 154.0 324.0 C154.6 324.1 154.8 324.3 155.3 325.0 C155.8 325.7 156.4 327.0 157.0 328.0 C157.6 329.0 158.4 329.4 159.1 331.0 C159.8 332.6 160.5 336.8 161.0 337.6 C161.5 338.3 161.7 335.3 162.1 335.5 C162.5 335.7 162.9 338.6 163.4 338.9 C163.9 339.2 164.4 337.9 164.9 337.5 C165.4 337.1 165.9 336.2 166.3 336.5 C166.7 336.8 166.9 338.4 167.3 339.4 C167.7 340.5 168.3 342.5 168.7 342.7 C169.1 342.9 169.3 340.6 169.7 340.6 C170.1 340.7 170.8 342.3 171.2 343.1 C171.6 343.9 171.8 345.1 172.1 345.3 C172.4 345.5 172.7 344.9 173.1 344.3 C173.4 343.8 173.7 341.7 174.0 342.0 C174.4 342.3 174.8 345.5 175.3 345.9 C175.7 346.2 176.2 343.9 176.5 344.1 C176.9 344.3 177.2 346.6 177.5 346.9 C177.9 347.1 178.3 345.2 178.7 345.5 C179.1 345.7 179.7 348.1 180.1 348.3 C180.5 348.5 180.7 346.6 181.0 346.7 C181.3 346.9 181.6 349.4 181.9 349.1 C182.2 348.8 182.5 344.7 182.9 345.1 C183.3 345.4 183.7 350.6 184.2 351.2 C184.7 351.7 185.3 348.1 185.7 348.2 C186.2 348.4 186.8 351.4 187.0 352.1" fill="none" stroke="#4472c4" stroke-width="1.10" stroke-linejoin="round" stroke-linecap="round" />
<path d="M79.5 294.1 L192.0 354.4" fill="none" stroke="#4472c4" stroke-width="1.70" stroke-linejoin="round" stroke-linecap="round" />
<line x1="152.1" y1="340.0" x2="152.1" y2="350.3" stroke="#000" stroke-width="2.00" />
<polygon points="149,341 152.1,335.2 155.2,341" fill="#000"/>
<line x1="310.8" y1="238.5" x2="451.0" y2="238.5" stroke="#ebebeb" stroke-width="0.70" />
<line x1="310.8" y1="271.7" x2="451.0" y2="271.7" stroke="#ebebeb" stroke-width="0.70" />
<line x1="310.8" y1="304.9" x2="475.2" y2="304.9" stroke="#ebebeb" stroke-width="0.70" />
<line x1="310.8" y1="338.0" x2="475.2" y2="338.0" stroke="#ebebeb" stroke-width="0.70" />
<line x1="310.8" y1="371.2" x2="475.2" y2="371.2" stroke="#ebebeb" stroke-width="0.70" />
<line x1="310.8" y1="238.6" x2="310.8" y2="371.2" stroke="#ebebeb" stroke-width="0.70" />
<line x1="365.5" y1="238.6" x2="365.5" y2="371.2" stroke="#ebebeb" stroke-width="0.70" />
<line x1="421.0" y1="238.6" x2="421.0" y2="371.2" stroke="#ebebeb" stroke-width="0.70" />
<line x1="475.2" y1="283.0" x2="475.2" y2="371.2" stroke="#ebebeb" stroke-width="0.70" />
<text x="304.0" y="240.7" font-family='"Liberation Sans", sans-serif' font-size="6.10" fill="#404040" text-anchor="end" font-weight="normal"  stroke="#404040" stroke-width="0.12">2</text>
<text x="304.0" y="273.9" font-family='"Liberation Sans", sans-serif' font-size="6.10" fill="#404040" text-anchor="end" font-weight="normal"  stroke="#404040" stroke-width="0.12">1.5</text>
<text x="304.0" y="307.1" font-family='"Liberation Sans", sans-serif' font-size="6.10" fill="#404040" text-anchor="end" font-weight="normal"  stroke="#404040" stroke-width="0.12">1</text>
<text x="304.0" y="340.2" font-family='"Liberation Sans", sans-serif' font-size="6.10" fill="#404040" text-anchor="end" font-weight="normal"  stroke="#404040" stroke-width="0.12">0.5</text>
<text x="304.0" y="373.4" font-family='"Liberation Sans", sans-serif' font-size="6.10" fill="#404040" text-anchor="end" font-weight="normal"  stroke="#404040" stroke-width="0.12">0</text>
<text x="310.8" y="381.0" font-family='"Liberation Sans", sans-serif' font-size="6.10" fill="#404040" text-anchor="middle" font-weight="normal"  stroke="#404040" stroke-width="0.12">0</text>
<text x="365.5" y="381.0" font-family='"Liberation Sans", sans-serif' font-size="6.10" fill="#404040" text-anchor="middle" font-weight="normal"  stroke="#404040" stroke-width="0.12">0.5</text>
<text x="421.0" y="381.0" font-family='"Liberation Sans", sans-serif' font-size="6.10" fill="#404040" text-anchor="middle" font-weight="normal"  stroke="#404040" stroke-width="0.12">1</text>
<text x="475.2" y="381.0" font-family='"Liberation Sans", sans-serif' font-size="6.10" fill="#404040" text-anchor="middle" font-weight="normal"  stroke="#404040" stroke-width="0.12">1.5</text>
<text x="421.1" y="389.8" font-family='"Liberation Sans", sans-serif' font-size="7.20" fill="#262626" text-anchor="middle" font-weight="normal" textLength="25.1" lengthAdjust="spacingAndGlyphs"  stroke="#262626" stroke-width="0.10">(10 Hz)</text>
<text x="322.0" y="395.5" font-family='"Liberation Sans", sans-serif' font-size="9.2" fill="#1a1a1a" stroke="#1a1a1a" stroke-width="0.2" textLength="76.7" lengthAdjust="spacingAndGlyphs">Log<tspan font-size="6" dy="2">10</tspan><tspan dy="-2"> Frequency</tspan></text>
<text transform="translate(290.2 364.6) rotate(-90)" x="0" y="0" font-family='"Liberation Sans", sans-serif' font-size="10.70" fill="#1a1a1a" stroke="#1a1a1a" stroke-width="0.2" textLength="113.5" lengthAdjust="spacingAndGlyphs">Power (Log<tspan font-size="6.63" dy="2.2">10</tspan><tspan dy="-2.2"> [µV²/Hz²])</tspan></text>
<text x="270.4" y="217.8" font-family='"Liberation Sans", sans-serif' font-size="15.00" fill="#000" text-anchor="start" font-weight="normal" textLength="21.3" lengthAdjust="spacingAndGlyphs"  stroke="#000" stroke-width="0.08">(iv)</text>
<text x="326.3" y="218.3" font-family='"Liberation Sans", sans-serif' font-size="13.30" fill="#000" text-anchor="start" font-weight="normal" textLength="145.0" lengthAdjust="spacingAndGlyphs"  stroke="#000" stroke-width="0.20">CARS Non-Responders</text>
<rect x="451.2" y="238.4" width="7.9" height="5.5" fill="#4472c4"/>
<text x="465.6" y="243.2" font-family='"Liberation Sans", sans-serif' font-size="8.20" fill="#1a1a1a" text-anchor="start" font-weight="normal" textLength="69.5" lengthAdjust="spacingAndGlyphs"  stroke="#1a1a1a" stroke-width="0.05">Slope before: – 1.02</text>
<rect x="451.2" y="254.8" width="7.9" height="5.3" fill="#ed7d31"/>
<text x="465.6" y="260.4" font-family='"Liberation Sans", sans-serif' font-size="8.20" fill="#1a1a1a" text-anchor="start" font-weight="normal" textLength="73.5" lengthAdjust="spacingAndGlyphs"  stroke="#1a1a1a" stroke-width="0.05">Slope 6 weeks: – 0.82</text>
<rect x="451.2" y="270.7" width="7.9" height="5.3" fill="#bfbfbf"/>
<text x="465.6" y="276.7" font-family='"Liberation Sans", sans-serif' font-size="8.20" fill="#1a1a1a" text-anchor="start" font-weight="normal" textLength="80.0" lengthAdjust="spacingAndGlyphs"  stroke="#1a1a1a" stroke-width="0.05">Slope 10 weeks: – 0.99</text>
<path d="M342.0 301.3 L347.1 304.3 L348.4 307.5 L351.5 304.9 L355.4 308.7 L357.9 309.4 L361.7 311.3 L363.6 315.7 L366.2 311.9 L368.7 318.9 L371.3 318.3 L373.8 316.4 L377.0 322.7 L378.9 317.6 L381.5 326.5 L384.0 322.1 L387.2 325.3 L391.0 327.8 L393.0 328.3 L394.0 326.5 L395.5 329.7 L397.0 328.3 L398.4 331.5 L399.4 330.0 L400.5 332.4 L401.4 327.0 L403.0 333.2 L404.5 332.6 L405.5 335.2 L407.2 334.0 L408.5 336.4 L410.1 334.8 L411.2 337.8 L412.6 336.3 L413.5 338.5 L415.0 337.6 L416.3 340.6 L417.5 336.7 L419.1 342.0 L420.1 336.4 L421.5 343.1 L422.7 341.1 L423.8 344.0 L425.3 342.8 L426.9 345.4 L428.4 344.5 L429.5 347.4 L431.1 345.5 L432.2 350.6 L433.7 347.4 L435.0 349.4 L436.1 344.2 L437.5 351.2 L438.8 349.1 L440.3 351.9 L442.0 351.1 L443.4 353.6 L444.9 353.1 L446.3 355.3 L447.9 353.8 L448.9 357.1 L450.5 355.2 L451.9 358.0" fill="none" stroke="#ed7d31" stroke-width="1.05" stroke-linejoin="round" stroke-linecap="round" />
<path d="M342.0 301.3 L453.0 357.5" fill="none" stroke="#ed7d31" stroke-width="1.60" stroke-linejoin="round" stroke-linecap="round" />
<path d="M341.0 295.2 L341.9 292.0 L343.3 295.0 L344.1 293.9 L344.9 296.1 L346.0 295.0 L347.3 297.3 L348.5 296.4 L349.9 299.2 L350.8 297.1 L352.1 301.0 L353.5 299.2 L354.8 302.5 L355.9 304.0 L356.9 303.1 L357.7 301.9 L358.7 304.5 L359.7 302.3 L360.9 305.5 L361.7 304.1 L362.9 307.2 L364.3 305.2 L365.1 308.2 L366.0 306.0 L366.9 309.7 L368.3 308.0 L369.2 311.0 L370.4 308.7 L371.3 312.7 L372.1 310.7 L373.3 313.6 L374.1 311.5 L375.3 315.0 L376.0 312.2 L377.2 315.3 L378.0 313.7 L379.4 317.3 L380.5 315.5 L381.9 318.1 L383.0 317.0 L384.1 320.0 L384.9 322.1 L386.3 321.4 L387.1 318.6 L387.9 323.6 L389.2 320.7 L390.3 323.1 L391.4 321.9 L392.6 324.4 L394.0 323.0 L395.2 325.8 L396.1 324.3 L397.1 326.9 L398.0 325.0 L398.8 328.1 L399.7 326.9 L400.9 329.6 L402.2 328.3 L403.2 330.9 L404.5 329.1 L405.3 332.1 L406.6 330.9 L407.7 333.6 L408.6 331.3 L410.0 337.0 L411.3 332.8 L412.6 336.2 L413.5 338.3 L415.0 337.7 L416.0 336.3 L417.5 339.5 L418.3 337.8 L419.5 340.7 L420.3 338.6 L421.6 341.5 L422.4 340.3 L423.7 342.8 L425.0 341.8 L426.2 344.5 L427.3 342.4 L428.6 345.7 L429.8 344.6 L431.0 347.0 L432.5 349.3 L433.4 349.4 L434.8 347.4 L436.1 350.7 L437.5 353.1 L438.5 352.1 L439.3 350.4 L440.5 352.8 L441.7 351.7 L442.7 354.4 L444.0 353.2 L444.9 355.2 L446.1 354.3 L447.3 357.9 L448.6 355.0 L449.9 358.8 L450.8 357.0 L452.1 360.4 L453.0 358.4" fill="none" stroke="#a8a8a8" stroke-width="1.00" stroke-linejoin="round" stroke-linecap="round" />
<path d="M340.1 290.9 L453.0 357.8" fill="none" stroke="#a4a4a4" stroke-width="1.60" stroke-linejoin="round" stroke-linecap="round" />
<path d="M343.9 284.5 L347.1 287.1 L349.0 292.8 L352.8 295.4 L356.6 296.0 L361.1 297.9 L363.0 302.3 L364.5 302.1 L365.7 303.9 L366.8 303.8 L367.9 305.2 L369.4 305.0 L371.1 307.2 L372.5 307.0 L373.8 308.8 L375.6 309.0 L376.8 310.6 L377.9 310.2 L379.1 312.3 L381.0 312.5 L382.4 314.2 L384.3 314.4 L385.5 316.0 L386.6 315.6 L388.4 317.9 L389.5 317.4 L391.2 319.7 L392.6 319.2 L394.2 321.4 L395.7 321.4 L397.2 323.4 L398.8 323.2 L400.6 325.5 L401.7 325.1 L403.0 326.5 L405.2 325.5 L407.7 325.3 L410.0 324.5 L413.5 325.5 L414.7 328.1 L416.0 327.0 L417.9 329.4 L419.0 330.0 L420.5 329.5 L422.0 333.0 L423.0 331.5 L424.3 336.4 L425.5 338.9 L427.0 340.4 L428.0 339.7 L429.6 342.3 L430.5 341.3 L432.1 344.0 L433.3 343.2 L434.8 342.7 L436.1 344.4 L437.5 347.3 L438.4 346.4 L440.0 348.6 L441.3 348.1 L442.6 350.7 L443.6 349.1 L445.2 351.8 L446.7 351.4 L448.2 353.4 L449.4 353.0 L451.1 355.6 L452.4 354.3" fill="none" stroke="#4472c4" stroke-width="1.10" stroke-linejoin="round" stroke-linecap="round" />
<path d="M340.1 287.3 L453.0 356.1" fill="none" stroke="#4472c4" stroke-width="1.60" stroke-linejoin="round" stroke-linecap="round" />
<line x1="427.2" y1="307.8" x2="419.0" y2="318.2" stroke="#000" stroke-width="2.30" />
<polygon points="414.5,323.8 415.2,314.8 422.6,320.6" fill="#000"/>
<text x="266.0" y="426.6" font-family='"Liberation Serif", serif' font-size="11.20" fill="#1a1a1a" text-anchor="middle" font-weight="normal" textLength="15.0" lengthAdjust="spacingAndGlyphs"  stroke="#1a1a1a" stroke-width="0.25">(A)</text>
<rect x="87" y="430.4" width="358" height="121" fill="none" stroke="#222" stroke-width="1.3"/>
<text x="132.5" y="464.9" font-family='"Liberation Sans", sans-serif' font-size="9.50" fill="#262626" text-anchor="middle" font-weight="normal" textLength="77.0" lengthAdjust="spacingAndGlyphs"  stroke="#262626" stroke-width="0.10">Broad band power</text>
<text x="132.5" y="476.4" font-family='"Liberation Sans", sans-serif' font-size="9.50" fill="#262626" text-anchor="middle" font-weight="normal" textLength="56.7" lengthAdjust="spacingAndGlyphs"  stroke="#262626" stroke-width="0.10">Before PrTMS</text>
<text x="137.5" y="516.4" font-family='"Liberation Sans", sans-serif' font-size="9.50" fill="#262626" text-anchor="middle" font-weight="normal" textLength="87.0" lengthAdjust="spacingAndGlyphs"  stroke="#262626" stroke-width="0.10">Broad band power at</text>
<text x="137.5" y="527.3" font-family='"Liberation Sans", sans-serif' font-size="9.50" fill="#262626" text-anchor="middle" font-weight="normal" textLength="77.7" lengthAdjust="spacingAndGlyphs"  stroke="#262626" stroke-width="0.10">10 weeks of PrTMS</text>
<text x="388.2" y="460.7" font-family='"Liberation Sans", sans-serif' font-size="9.50" fill="#262626" text-anchor="middle" font-weight="normal" textLength="97.7" lengthAdjust="spacingAndGlyphs"  stroke="#262626" stroke-width="0.10">Alpha oscillatory power</text>
<text x="388.2" y="472.8" font-family='"Liberation Sans", sans-serif' font-size="9.50" fill="#262626" text-anchor="middle" font-weight="normal" textLength="57.1" lengthAdjust="spacingAndGlyphs"  stroke="#262626" stroke-width="0.10">Before PrTMS</text>
<text x="389.8" y="495.2" font-family='"Liberation Sans", sans-serif' font-size="9.50" fill="#262626" text-anchor="middle" font-weight="normal" textLength="97.9" lengthAdjust="spacingAndGlyphs"  stroke="#262626" stroke-width="0.10">Alpha oscillatory power</text>
<text x="389.8" y="506.7" font-family='"Liberation Sans", sans-serif' font-size="9.50" fill="#262626" text-anchor="middle" font-weight="normal" textLength="89.5" lengthAdjust="spacingAndGlyphs"  stroke="#262626" stroke-width="0.10">at 10 weeks of PrTMS</text>
<line x1="225.5" y1="464.4" x2="333.8" y2="464.4" stroke="#ff5050" stroke-width="0.70" />
<line x1="223.0" y1="473.2" x2="333.8" y2="473.2" stroke="#ff5050" stroke-width="0.70" />
<line x1="230.0" y1="482.2" x2="333.8" y2="482.2" stroke="#ff5050" stroke-width="0.70" />
<line x1="220.5" y1="506.1" x2="333.8" y2="506.1" stroke="#ff5050" stroke-width="0.70" />
<line x1="333.8" y1="464.4" x2="333.8" y2="473.2" stroke="#ff5050" stroke-width="0.70" />
<line x1="333.8" y1="482.2" x2="333.8" y2="506.1" stroke="#ff5050" stroke-width="0.70" />
<line x1="153.4" y1="538.8" x2="303.2" y2="538.8" stroke="#4472c4" stroke-width="2.00" />
<path d="M152.6 445.5 L154.0 438.5 L155.0 437.2 L156.3 434.2 L158.3 440.4 L160.2 438.6 L161.7 444.2 L163.0 439.5 L164.5 446.4 L166.3 441.8 L167.1 448.3 L169.1 441.4 L169.9 441.9 L171.5 447.5 L173.0 443.1 L174.2 447.8 L176.2 448.1 L178.0 443.6 L178.8 448.5 L180.4 442.5 L181.2 449.2 L182.9 441.6 L184.5 445.2 L186.6 451.8 L187.6 447.9 L189.4 452.2 L191.1 448.9 L192.6 448.4 L193.9 455.2 L195.4 450.0 L197.5 455.3 L198.7 451.0 L200.7 457.2 L202.4 459.3 L204.1 455.0 L205.5 460.9 L207.5 455.3 L208.4 462.8 L210.1 457.6 L211.2 464.8 L212.3 459.0 L213.7 464.2 L214.7 457.7 L215.7 464.1 L217.3 459.1 L218.8 464.9 L220.3 463.7 L222.0 460.2 L224.0 466.6 L225.7 463.0 L227.4 468.1 L228.7 465.3 L230.5 467.5 L232.3 473.9 L233.5 475.5 L234.5 476.0 L235.3 473.2 L237.2 480.1 L238.3 475.2 L240.3 483.8 L241.9 484.4 L242.8 486.5 L243.8 488.5 L244.7 489.0 L245.9 483.5 L246.7 484.7 L247.9 485.4 L249.1 492.9 L250.5 486.7 L252.5 492.1 L253.4 485.8 L254.2 486.5 L256.2 495.2 L257.7 495.3 L259.2 491.2 L260.6 497.0 L262.0 499.8 L263.1 492.0 L264.0 500.9 L265.7 495.4 L267.0 501.2 L268.3 493.9 L269.8 502.0 L271.2 495.2 L272.2 502.3 L273.2 503.0 L275.0 504.5 L277.0 499.4 L277.7 508.0 L278.8 501.0 L280.2 509.7 L281.5 508.5 L283.5 511.3 L284.8 504.2 L285.9 510.4 L287.9 505.6 L289.0 511.9 L290.7 507.9 L291.5 515.4 L292.8 507.5 L293.9 516.3 L295.8 516.9 L297.0 510.4 L298.0 517.0 L299.3 511.7 L301.0 506.0 L301.5 515.0" fill="none" stroke="#4a78c8" stroke-width="1.90" stroke-linejoin="round" stroke-linecap="round" />
<path d="M154.8 490.6 L156.1 488.5 L157.4 490.5 L158.7 490.2 L160.0 491.6 L161.2 490.1 L162.5 491.3 L163.8 489.2 L165.0 491.3 L166.5 490.4 L168.0 490.4 L169.5 491.4 L170.9 491.8 L172.2 489.9 L173.6 490.5 L175.0 489.2 L176.2 489.8 L177.5 490.4 L178.8 490.9 L180.0 491.4 L181.2 492.5 L182.5 491.3 L183.8 492.2 L185.0 492.0 L186.2 492.3 L187.5 492.8 L188.8 492.1 L190.0 492.6 L191.4 493.3 L192.7 492.6 L194.1 491.7 L195.6 492.5 L197.1 492.4 L198.5 491.3 L200.0 490.9 L201.2 490.9 L202.5 492.0 L203.8 492.1 L205.0 491.4 L206.4 490.2 L207.8 488.6 L209.1 487.9 L210.5 489.0 L211.8 487.4 L213.0 485.9 L214.3 484.3 L215.7 483.4 L217.0 482.8 L218.5 483.1 L220.0 484.8 L221.8 484.4 L223.6 485.4 L225.3 483.7 L227.0 482.6 L228.4 482.5 L229.9 482.0 L231.2 480.8 L232.4 483.3 L233.8 486.6 L235.1 490.0 L236.5 492.6 L237.7 496.4 L238.9 498.5 L240.2 499.4 L241.4 503.1 L242.8 505.7 L244.1 507.6 L245.5 510.1 L246.9 510.8 L248.3 512.8 L249.8 512.9 L251.2 516.0 L252.5 515.7 L253.8 518.2 L255.1 519.6 L256.4 519.3 L257.7 519.5 L259.0 519.7 L260.3 521.3 L261.7 520.7 L263.0 522.5 L264.3 522.5 L265.6 522.5 L266.9 523.3 L268.2 522.3 L269.5 523.4 L270.8 522.6 L272.1 524.7 L273.4 526.2 L274.8 525.4 L276.1 527.6 L277.4 529.2 L278.6 527.4 L279.9 527.1 L281.1 527.3 L282.3 528.8 L283.5 526.4 L284.8 527.8 L286.0 526.1 L287.2 527.0 L288.6 527.3 L289.9 527.2 L291.3 525.5 L292.7 526.4 L294.0 525.8 L295.4 527.3 L296.9 526.0 L298.5 525.9 L300.0 527.0" fill="none" stroke="#a6a6a6" stroke-width="1.50" stroke-linejoin="round" stroke-linecap="round" />
<line x1="153.2" y1="434.9" x2="301.1" y2="514.8" stroke="#000" stroke-width="2.30" />
<line x1="157.3" y1="485.3" x2="303.6" y2="530.7" stroke="#000" stroke-width="2.30" />
<line x1="186.6" y1="500.5" x2="186.6" y2="534.5" stroke="#ff5050" stroke-width="0.80" />
<polygon points="186.6,497.7 188.4,501.7 184.8,501.7" fill="#ff1a1a"/>
<polygon points="186.6,537.2 184.8,533.2 188.4,533.2" fill="#ff1a1a"/>
<line x1="194.1" y1="462.5" x2="194.1" y2="534.5" stroke="#ff5050" stroke-width="0.80" />
<polygon points="194.1,459.5 195.9,463.5 192.3,463.5" fill="#ff1a1a"/>
<polygon points="194.1,537.2 192.3,533.2 195.9,533.2" fill="#ff1a1a"/>
<line x1="222.8" y1="473.2" x2="225.2" y2="466.5" stroke="#ff5050" stroke-width="0.90" />
<polygon points="225.7,464.6 226.1,468.8 222.8,467.6" fill="#ff1a1a"/>
<polygon points="222.6,473.4 222.2,469.2 225.5,470.4" fill="#ff1a1a"/>
<line x1="220.6" y1="505.8" x2="229.0" y2="484.5" stroke="#ff5050" stroke-width="0.90" />
<polygon points="229.9,482.0 230.2,486.4 226.8,485.1" fill="#ff1a1a"/>
<polygon points="220.4,506.2 220.1,501.8 223.5,503.1" fill="#ff1a1a"/>
<text x="265.9" y="564.2" font-family='"Liberation Serif", serif' font-size="11.20" fill="#1a1a1a" text-anchor="middle" font-weight="normal" textLength="13.5" lengthAdjust="spacingAndGlyphs"  stroke="#1a1a1a" stroke-width="0.25">(B)</text>
</svg></body></html>
